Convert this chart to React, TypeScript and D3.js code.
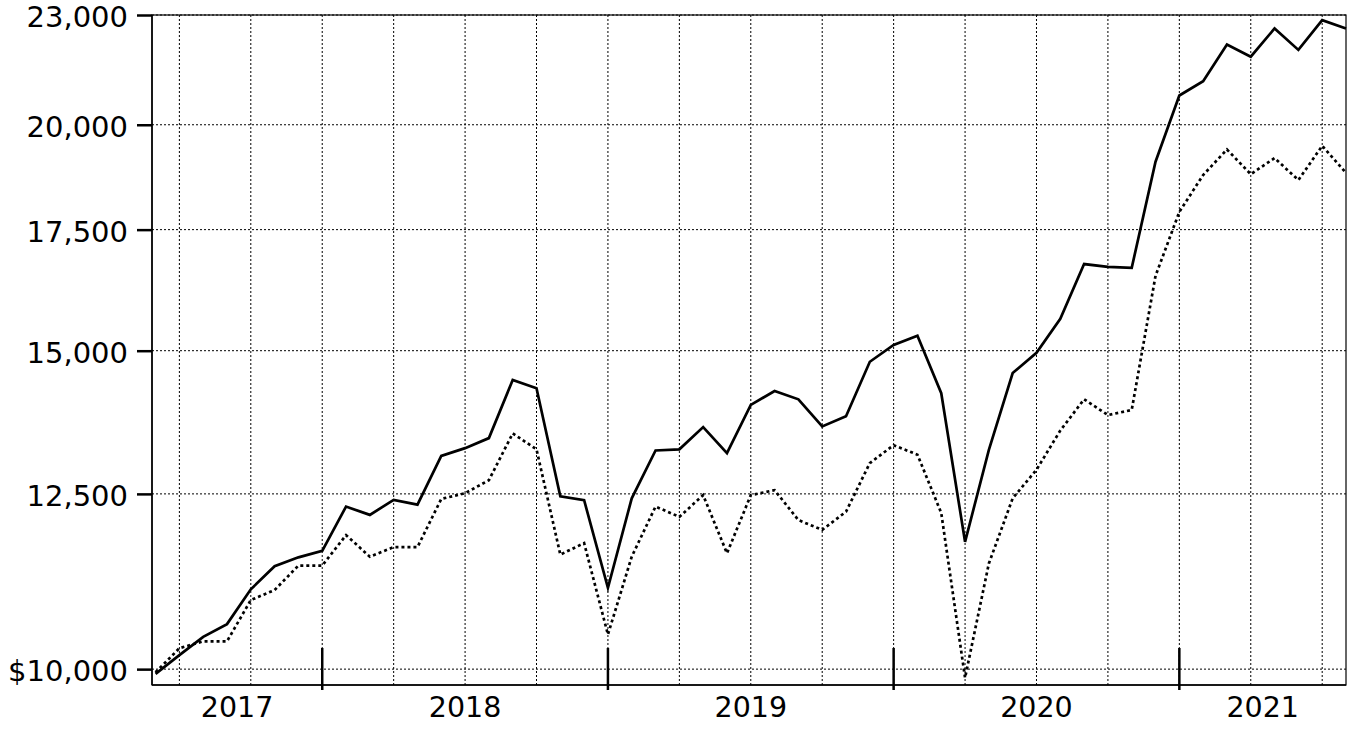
import * as React from 'react';
import * as d3 from 'd3';

// month-end observations, May 2017 .. Jul 2021
const months = [
  '2017-05', '2017-06', '2017-07', '2017-08', '2017-09', '2017-10', '2017-11', '2017-12',
  '2018-01', '2018-02', '2018-03', '2018-04', '2018-05', '2018-06', '2018-07', '2018-08', '2018-09', '2018-10', '2018-11', '2018-12',
  '2019-01', '2019-02', '2019-03', '2019-04', '2019-05', '2019-06', '2019-07', '2019-08', '2019-09', '2019-10', '2019-11', '2019-12',
  '2020-01', '2020-02', '2020-03', '2020-04', '2020-05', '2020-06', '2020-07', '2020-08', '2020-09', '2020-10', '2020-11', '2020-12',
  '2021-01', '2021-02', '2021-03', '2021-04', '2021-05', '2021-06', '2021-07',
];

const fund = [
  9940, 10180, 10420, 10590, 11070, 11400, 11530, 11625,
  12300, 12170, 12405, 12330, 13120, 13250, 13420, 14450, 14300, 12460, 12400, 11090,
  12430, 13210, 13230, 13610, 13165, 14000, 14250, 14100, 13620, 13800, 14790, 15110,
  15290, 14210, 11760, 13220, 14580, 14960, 15620, 16750, 16690, 16670, 19080, 20760,
  21140, 22150, 21810, 22610, 22000, 22850, 22610,
];

const benchmark = [
  9960, 10270, 10360, 10360, 10920, 11060, 11410, 11410,
  11860, 11540, 11680, 11680, 12420, 12510, 12720, 13500, 13230, 11570, 11740, 10450,
  11540, 12300, 12140, 12480, 11590, 12480, 12560, 12090, 11940, 12220, 13000, 13300,
  13140, 12200, 9890, 11440, 12430, 12890, 13550, 14100, 13820, 13910, 16500, 17900,
  18760, 19380, 18780, 19170, 18640, 19470, 18810,
];

const yTicks = [10000, 12500, 15000, 17500, 20000, 23000];
const years = ['2017', '2018', '2019', '2020', '2021'];

const W = 1363;
const H = 740;
const margin = { top: 15, right: 17, bottom: 55, left: 152 };
const FONT = '"DejaVu Sans", Verdana, sans-serif';

export default function App() {
  const ref = React.useRef<SVGSVGElement>(null);

  React.useEffect(() => {
    const el = ref.current;
    if (!el) { return; }
    el.innerHTML = '';
    const svg = d3.select(el);
    const left = margin.left;
    const right = W - margin.right;
    const top = margin.top;
    const bottom = H - margin.bottom;

    const x = d3.scaleLinear().domain([-0.15, months.length - 1]).range([left, right]);
    const y = d3.scaleLog().domain([9800, 23000]).range([bottom, top]);

    const quarterEnds = months.map((m, i) => ({ m, i })).filter(d => +d.m.slice(5) % 3 === 0).map(d => d.i);
    const yearEnds = months.map((m, i) => ({ m, i })).filter(d => d.m.slice(5) === '12').map(d => d.i);

    const grid = svg.append('g')
      .attr('stroke', '#000')
      .attr('stroke-width', 1)
      .attr('stroke-dasharray', '2,2');
    grid.selectAll('.vg')
      .data(quarterEnds)
      .enter().append('line')
        .attr('x1', d => x(d)).attr('x2', d => x(d))
        .attr('y1', top).attr('y2', bottom);
    grid.selectAll('.hg')
      .data(yTicks)
      .enter().append('line')
        .attr('x1', left).attr('x2', right)
        .attr('y1', d => y(d)).attr('y2', d => y(d));

    // frame
    svg.append('rect')
      .attr('x', left).attr('y', top)
      .attr('width', right - left).attr('height', bottom - top)
      .attr('fill', 'none').attr('stroke', '#000').attr('stroke-width', 1.2);
    svg.append('line')
      .attr('x1', left).attr('x2', left).attr('y1', top).attr('y2', bottom)
      .attr('stroke', '#000').attr('stroke-width', 1.5);
    svg.append('line')
      .attr('x1', left).attr('x2', right).attr('y1', bottom).attr('y2', bottom)
      .attr('stroke', '#000').attr('stroke-width', 1.5);

    // y axis
    const yAxis = svg.append('g')
      .attr('transform', `translate(${left},0)`)
      .call(d3.axisLeft(y)
        .tickValues(yTicks)
        .tickSize(15)
        .tickPadding(9)
        .tickFormat((d, i) => (i === 0 ? '$' : '') + d3.format(',')(d as number)));
    yAxis.select('.domain').remove();
    yAxis.selectAll('line').attr('stroke', '#000').attr('stroke-width', 2.5);
    yAxis.selectAll('text')
      .attr('fill', '#000')
      .attr('dy', '0.4em')
      .style('font-family', FONT)
      .style('font-size', '29px');

    // year boundary ticks
    svg.append('g')
      .selectAll('line')
      .data(yearEnds)
      .enter().append('line')
        .attr('x1', d => x(d)).attr('x2', d => x(d))
        .attr('y1', bottom - 37).attr('y2', bottom + 5)
        .attr('stroke', '#000').attr('stroke-width', 2.5);

    const bounds = [x.domain()[0], ...yearEnds, x.domain()[1]];
    svg.append('g')
      .selectAll('text')
      .data(years)
      .enter().append('text')
        .attr('x', (_, i) => (x(bounds[i]) + x(bounds[i + 1])) / 2)
        .attr('y', bottom + 32)
        .attr('text-anchor', 'middle')
        .attr('fill', '#000')
        .style('font-family', FONT)
        .style('font-size', '28.5px')
        .text(d => d);

    const line = d3.line<number>()
      .x((_, i) => x(i))
      .y(d => y(d));

    svg.append('path')
      .datum(benchmark)
      .attr('d', line)
      .attr('fill', 'none')
      .attr('stroke', '#000')
      .attr('stroke-width', 2.7)
      .attr('stroke-dasharray', '3,3');

    svg.append('path')
      .datum(fund)
      .attr('d', line)
      .attr('fill', 'none')
      .attr('stroke', '#000')
      .attr('stroke-width', 2.7)
      .attr('stroke-linejoin', 'miter');
  }, []);

  return (
    <svg ref={ref} width={W} height={H} style={{ position: 'absolute', left: 0, top: 0, background: '#fff' }}></svg>
  );
}
